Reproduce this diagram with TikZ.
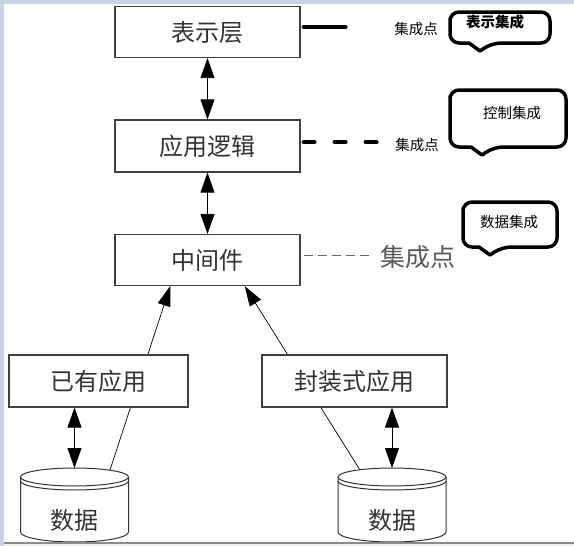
\documentclass[tikz,border=0pt]{standalone}
\usepackage{fontspec}
\newfontfamily\cjk{Noto Sans CJK SC}
\usetikzlibrary{arrows.meta,calc,backgrounds}
\definecolor{framebl}{HTML}{C8D2E4}
\definecolor{txtgray}{HTML}{333333}

\tikzset{
  layer/.style={draw=black!75, line width=1.2pt, fill=white, minimum width=185pt,
    minimum height=51pt, inner sep=0pt, font=\cjk\fontsize{24}{24}\selectfont, text=txtgray},
  big/.style={font=\cjk\fontsize{24}{24}\selectfont, inner sep=0pt},
  small/.style={font=\cjk\fontsize{14.5}{14.5}\selectfont, inner sep=0pt},
  link/.style={line width=0.8pt, {Triangle[length=20pt,width=14pt]}-{Triangle[length=20pt,width=14pt]}},
  feed/.style={line width=0.7pt, -{Triangle[length=20pt,width=13pt]}},
  callout/.style={line width=3.5pt, line join=round},
}

\begin{document}
\begin{tikzpicture}[x=1pt, y=-1pt]
\useasboundingbox (0,0) rectangle (574,546);

% layers
\node[layer] (pres) at (207.5,32) {表示层};
\node[layer, minimum height=52pt] (logic) at (207.5,146) {应用逻辑};
\node[layer] (mid) at (207.5,260) {中间件};
\node[layer, minimum width=179pt, minimum height=52pt] (legacy) at (98.5,381) {已有应用};
\node[layer, minimum height=52pt] (pkg) at (354.5,381) {封装式应用};

% data stores
\foreach \cx/\nm in {74.5/dbA, 392/dbB} {
  \draw[black!80, line width=1pt, fill=white] (\cx-54,477) -- (\cx-54,532)
    arc[start angle=180, end angle=0, x radius=54, y radius=10] -- (\cx+54,477);
  \draw[black!80, line width=1pt, fill=white] (\cx,477) ellipse[x radius=54, y radius=9];
  \draw[black!80, line width=1pt] (\cx-54,481) arc[start angle=180, end angle=0, x radius=54, y radius=9];
  \node[big, text=txtgray] (\nm) at (\cx,520) {数据};
  \coordinate (\nm-top) at (\cx,468);
}
\coordinate (dbA-rim) at (110,470);
\coordinate (dbB-rim) at (360,470);

% connectors
\draw[link] (pres.south) -- (logic.north);
\draw[link] (logic.south) -- (mid.north);
\draw[link] (dbA-top|-legacy.south) -- (dbA-top);
\draw[link] (dbB-top|-pkg.south) -- (dbB-top);
\begin{scope}[on background layer]
  \fill[white] (0,0) rectangle (574,546);
  \fill[framebl] (0,0) rectangle (574,4);
  \fill[framebl] (0,0) rectangle (4,546);
  \draw[feed] (dbA-rim) -- ($(mid.south west)!0.3!(mid.south east)$);
  \draw[feed] (dbB-rim) -- ($(mid.south west)!0.7!(mid.south east)$);
\end{scope}

% integration points
\node[small] (ip1) at (416,29) {集成点};
\node[small] (ip2) at (417,145) {集成点};
\node[big, font=\cjk\fontsize{25}{25}\selectfont, text=black!65] (ip3) at (418,257) {集成点};
\draw[line width=4pt, line cap=round] ([shift={(3,-5)}]pres.east) -- ++(42,0);
\draw[line width=4pt, line cap=round, dash pattern=on 11pt off 20pt] ([shift={(3,-4)}]logic.east) -- ++(73,0);
\draw[black!60, line width=1pt, dash pattern=on 9pt off 5pt] ([shift={(3,-5)}]mid.east) -- ++(65,0);

% callouts
\foreach \l/\t/\r/\b/\p in {450/12/550/43/480, 450/90/566/147/482, 463/202/557/247/490} {
  \draw[callout] (\l,\t+15) [rounded corners=9pt] -- (\l,\t) -- (\r,\t) -- (\r,\b)
    -- (\p+12,\b) [sharp corners] -- (\p,\b+8) -- (\p-11,\b) [rounded corners=9pt] -- (\l,\b) -- cycle;
}
\node[small, font=\cjk\bfseries\fontsize{14.5}{14.5}\selectfont] (cb1) at (495,22) {表示集成};
\node[small] (cb2) at (512,113) {控制集成};
\node[small] (cb3) at (509,222) {数据集成};

% bottom edge
\fill[black!6] (4,543) rectangle (574,546);
\draw[black!45, line width=1.2pt] (4,543) -- (574,543);
\end{tikzpicture}
\end{document}
